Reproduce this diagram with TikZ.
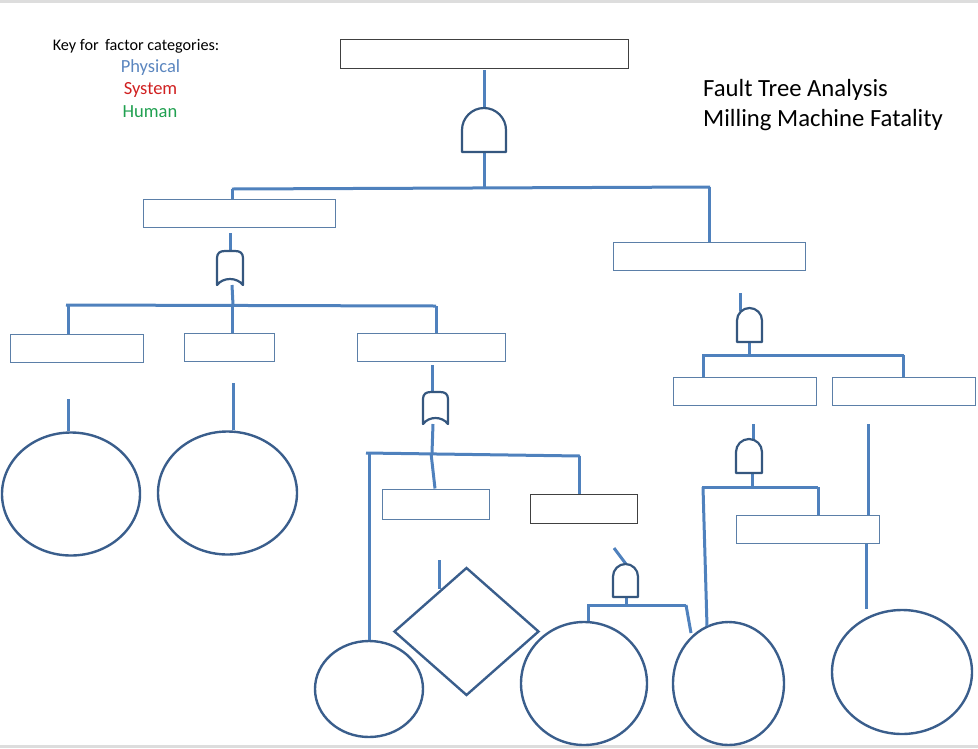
\documentclass[tikz,border=0pt]{standalone}
\usepackage{fontspec}
\setmainfont{Carlito}
\usetikzlibrary{shapes.geometric}
\definecolor{linec}{HTML}{4F81BD}
\definecolor{gatec}{HTML}{35577F}
\definecolor{ellc}{HTML}{3A5E8C}
\definecolor{boxc}{HTML}{5B7FA8}
\definecolor{darkc}{HTML}{404040}
\definecolor{physc}{HTML}{5B86BF}
\definecolor{sysc}{HTML}{D02020}
\definecolor{humc}{HTML}{20A050}
\definecolor{stripc}{HTML}{DDDDDD}
\begin{document}
\begin{tikzpicture}[x=1pt,y=-1pt,
  bx/.style={rectangle,draw=boxc,line width=1pt,inner sep=0pt,fill=white},
  dbx/.style={bx,draw=darkc},
  ell/.style={ellipse,draw=ellc,line width=2.4pt,inner sep=0pt},
  dia/.style={diamond,draw=ellc,line width=2.4pt,inner sep=0pt},
  con/.style={draw=linec,line width=3pt},
  gate/.style={draw=gatec,line width=2.2pt,fill=white,line join=round},
  lbl/.style={inner sep=0pt,font=\fontsize{16.2}{19}\selectfont},
  klbl/.style={inner sep=0pt,font=\fontsize{18.5}{22}\selectfont},
  ttl/.style={inner sep=0pt,anchor=west,font=\fontsize{24.7}{29}\selectfont}]
\useasboundingbox (0,0) rectangle (978,748);
\fill[stripc] (0,0) rectangle (978,3);
\fill[stripc] (0,745) rectangle (978,748);

% key and title
\node[lbl] (key) at (136,46) {Key for\, factor categories:};
\node[klbl,text=physc] (kp) at (150.5,68) {Physical};
\node[klbl,text=sysc] (ks) at (150.5,90) {System};
\node[klbl,text=humc] (kh) at (150,112) {Human};
\node[ttl] (t1) at (703,90) {Fault Tree Analysis};
\node[ttl] (t2) at (703,120) {Milling Machine Fatality};

% boxes
\node[dbx,minimum width=288pt,minimum height=29pt] (top) at (484,53.5) {};
\node[bx,minimum width=192pt,minimum height=28pt] (l2) at (239,213) {};
\node[bx,minimum width=192pt,minimum height=28pt] (r2) at (709,256) {};
\node[bx,minimum width=133pt,minimum height=28pt] (ba) at (76.5,348) {};
\node[bx,minimum width=90pt,minimum height=28pt] (bb) at (229,347) {};
\node[bx,minimum width=148pt,minimum height=28pt] (bc) at (431,347) {};
\node[bx,minimum width=107pt,minimum height=30pt] (bd) at (435.5,504) {};
\node[dbx,minimum width=107pt,minimum height=29pt] (be) at (583.5,508.5) {};
\node[bx,minimum width=143pt,minimum height=28pt] (r3a) at (744.5,391) {};
\node[bx,minimum width=143pt,minimum height=28pt] (r3b) at (903.5,391) {};
\node[bx,minimum width=143pt,minimum height=28pt] (r4) at (807.5,529) {};

% ellipses and diamond
\node[ell,minimum width=138pt,minimum height=123pt] (e1) at (71,494) {};
\node[ell,minimum width=139pt,minimum height=123pt] (e2) at (227.5,493) {};
\node[ell,minimum width=108pt,minimum height=96pt] (e3) at (369,689) {};
\node[ell,minimum width=126pt,minimum height=123pt] (e4) at (584,683.5) {};
\node[ell,minimum width=111pt,minimum height=123pt] (e5) at (728.5,683.5) {};
\node[ell,minimum width=140pt,minimum height=124pt] (e6) at (902,672) {};
\node[dia,minimum width=145pt,minimum height=128pt] (dm) at (466.5,631.5) {};

% gate anchor coordinates (top / bottom centre)
\coordinate (g1t) at (484,108); \coordinate (g1b) at (484,152);
\coordinate (g2t) at (230,251); \coordinate (g2b) at (232,285);
\coordinate (g3t) at (432,392); \coordinate (g3b) at (433,424);
\coordinate (g4t) at (626,564); \coordinate (g4b) at (626,597);
\coordinate (g5t) at (740,311); \coordinate (g5b) at (749,342);
\coordinate (g6t) at (753,441); \coordinate (g6b) at (752,473);

% free ends of connectors
\coordinate (c1a) at (484,70);
\coordinate (c2a) at (230,233);
\coordinate (c3a) at (432,365);
\coordinate (c4a) at (614,548);
\coordinate (c5a) at (740,293);
\coordinate (c6a) at (753,424);
\coordinate (ua) at (68,399);
\coordinate (ub) at (233,383);
\coordinate (ud) at (439,560);
\coordinate (ur3b) at (868,424);

% connectors: top
\draw[con] (c1a) -- (g1t);
\draw[con] (g1b) -- (484,188);
\draw[con] (232,189) -- (710,187);
\draw[con] (232,189) -- (l2.north -| 232,0);
\draw[con] (709,187) -- (r2.north -| 709,0);
% left branch
\draw[con] (c2a) -- (g2t);
\draw[con] (g2b) -- (233,305);
\draw[con] (66,305) -- (436,306);
\draw[con] (68,305) -- (ba.north -| 68,0);
\draw[con] (232,305) -- (bb.north -| 232,0);
\draw[con] (436,306) -- (bc.north -| 436,0);
\draw[con] (ua) -- (e1.north -| 68,0);
\draw[con] (ub) -- (e2.north -| 233,0);
% C branch
\draw[con] (c3a) -- (g3t);
\draw[con] (g3b) -- (432,453);
\draw[con] (366,453) -- (580,456);
\draw[con] (369,453) -- (e3.north);
\draw[con] (431,453) -- (bd.north -| 435,0);
\draw[con] (579,456) -- (be.north -| 579,0);
\draw[con] (ud) -- (439,589);
% E branch
\draw[con] (c4a) -- (g4t);
\draw[con] (g4b) -- (626,605);
\draw[con] (587,605) -- (686,605);
\draw[con] (588,605) -- (e4.north -| 588,0);
\draw[con] (686,605) -- (691,633);
% right branch
\draw[con] (c5a) -- (g5t);
\draw[con] (g5b) -- (749,355);
\draw[con] (702,355) -- (904,355);
\draw[con] (703,355) -- (r3a.north -| 703,0);
\draw[con] (903,355) -- (r3b.north -| 903,0);
\draw[con] (c6a) -- (g6t);
\draw[con] (g6b) -- (752,487);
\draw[con] (702,487) -- (818,487);
\draw[con] (703,487) -- (707,626);
\draw[con] (818,487) -- (r4.north -| 818,0);
\draw[con] (ur3b) -- (r4.north -| 868,0);
\draw[con] (r4.south -| 866,0) -- (e6.north -| 866,0);

% AND gates
\draw[gate] (462,152) -- (462,130) .. controls (462,117.9) and (471.9,108) .. (484,108)
  .. controls (496.1,108) and (506,117.9) .. (506,130) -- (506,152) -- cycle;
\draw[gate] (737,342) -- (737,320.5) .. controls (737,313.6) and (742.6,308) .. (749.5,308)
  .. controls (756.4,308) and (762,313.6) .. (762,320.5) -- (762,342) -- cycle;
\draw[gate] (736,473) -- (736,452) .. controls (736,444.8) and (741.8,439) .. (749,439)
  .. controls (756.2,439) and (762,444.8) .. (762,452) -- (762,473) -- cycle;
\draw[gate] (613,597) -- (613,576.5) .. controls (613,569.6) and (618.6,564) .. (625.5,564)
  .. controls (632.4,564) and (638,569.6) .. (638,576.5) -- (638,597) -- cycle;

% OR gates
\draw[gate] (217,285) -- (217,258) .. controls (217,253) and (220,251) .. (225,251)
  -- (235,251) .. controls (240,251) and (243,253) .. (243,258) -- (243,285)
  .. controls (237,277) and (223,277) .. (217,285) -- cycle;
\draw[gate] (423,424) -- (423,399) .. controls (423,394) and (426,392) .. (431,392)
  -- (440,392) .. controls (445,392) and (448,394) .. (448,399) -- (448,424)
  .. controls (442,416) and (429,416) .. (423,424) -- cycle;
\end{tikzpicture}
\end{document}
